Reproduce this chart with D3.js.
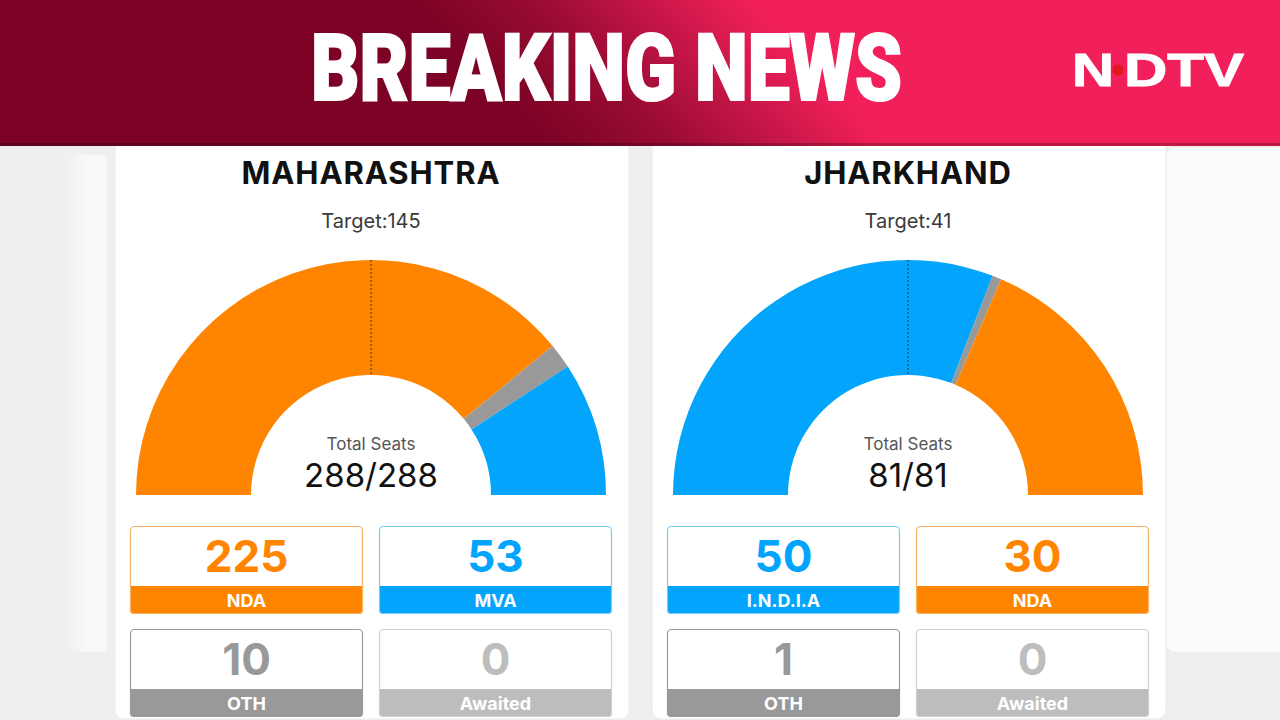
<!DOCTYPE html>
<html>
<head>
<meta charset="utf-8">
<script src="https://cdn.jsdelivr.net/npm/d3@7"></script>
<style>
  html, body { margin: 0; padding: 0; background: #efefef; overflow: hidden; }
  svg { display: block; }
</style>
</head>
<body>
<svg id="chart" width="1280" height="720"></svg>
<script>
// ---- Results data ----
const states = ["MAHARASHTRA", "JHARKHAND"];
const targets = [145, 41];
const totalSeats = [288, 81];
const countedSeats = [288, 81];

const mhAlliances = ["NDA", "OTH", "MVA"];
const mhSeats = [225, 10, 53];
const jhAlliances = ["I.N.D.I.A", "OTH", "NDA"];
const jhSeats = [50, 1, 30];
const awaitedSeats = [0, 0];

const mhBoxOrder = ["NDA", "MVA", "OTH", "Awaited"];
const jhBoxOrder = ["I.N.D.I.A", "NDA", "OTH", "Awaited"];

// ---- Styling ----
const allianceColor = {
  "NDA": "#ff8500",
  "MVA": "#03a5fc",
  "I.N.D.I.A": "#03a5fc",
  "OTH": "#999999",
  "Awaited": "#bdbdbd"
};
const boxBorder = {
  "NDA": "#f4b366",
  "MVA": "#7ccaf2",
  "I.N.D.I.A": "#7ccaf2",
  "OTH": "#9a9a9a",
  "Awaited": "#cfcfcf"
};

const svg = d3.select("#chart");
const defs = svg.append("defs");

// ---- Background panels ----
const edgeFade = defs.append("linearGradient").attr("id", "edgeFade")
  .attr("x1", 0).attr("x2", 1).attr("y1", 0).attr("y2", 0);
edgeFade.append("stop").attr("offset", 0).attr("stop-color", "#efefef");
edgeFade.append("stop").attr("offset", 0.45).attr("stop-color", "#f8f8f8");
edgeFade.append("stop").attr("offset", 1).attr("stop-color", "#f9f9f9");

svg.append("rect").attr("x", 0).attr("y", 0).attr("width", 1280).attr("height", 720).attr("fill", "#efefef");
svg.append("rect").attr("x", 66).attr("y", 155).attr("width", 41).attr("height", 497)
  .attr("rx", 6).attr("fill", "url(#edgeFade)");
svg.append("rect").attr("x", 1167).attr("y", 148).attr("width", 130).attr("height", 504)
  .attr("rx", 8).attr("fill", "#fcfcfc");

const cardX = [115, 652];
const cardW = 514;
const centers = [371, 908];

cardX.forEach(x => {
  svg.append("rect").attr("x", x).attr("y", 140).attr("width", cardW).attr("height", 579)
    .attr("rx", 9).attr("fill", "#ffffff").attr("stroke", "#ebebeb").attr("stroke-width", 1);
});

// ---- Header banner ----
const bannerGrad = defs.append("linearGradient").attr("id", "bannerGrad")
  .attr("gradientUnits", "userSpaceOnUse")
  .attr("x1", 555).attr("y1", 150).attr("x2", 730).attr("y2", -20);
bannerGrad.append("stop").attr("offset", 0).attr("stop-color", "#7c0325");
bannerGrad.append("stop").attr("offset", 0.35).attr("stop-color", "#980b33");
bannerGrad.append("stop").attr("offset", 1).attr("stop-color", "#f2205a");

svg.append("rect").attr("x", 0).attr("y", 0).attr("width", 1280).attr("height", 146).attr("fill", "url(#bannerGrad)");
svg.append("rect").attr("x", 0).attr("y", 143).attr("width", 1280).attr("height", 3).attr("fill", "#000").attr("opacity", 0.22);

svg.append("text")
  .attr("x", 311).attr("y", 100)
  .attr("textLength", 591).attr("lengthAdjust", "spacingAndGlyphs")
  .attr("font-family", "Roboto, 'Liberation Sans', sans-serif")
  .attr("font-weight", 900).attr("font-size", 92)
  .attr("fill", "#ffffff").attr("stroke", "#ffffff").attr("stroke-width", 2.2)
  .attr("stroke-linejoin", "miter")
  .text("BREAKING NEWS");

// NDTV wordmark
const logo = svg.append("g").attr("font-family", "'Liberation Sans', Arial, sans-serif")
  .attr("font-weight", 700).attr("font-size", 46).attr("fill", "#ffffff")
  .attr("stroke", "#ffffff").attr("stroke-width", 1);
logo.append("text").attr("x", 1072).attr("y", 86)
  .attr("textLength", 42).attr("lengthAdjust", "spacingAndGlyphs").text("N");
logo.append("text").attr("x", 1124).attr("y", 86)
  .attr("textLength", 120).attr("lengthAdjust", "spacingAndGlyphs").text("DTV");
svg.append("circle").attr("cx", 1118).attr("cy", 70).attr("r", 5.5).attr("fill", "#e3161f");

// ---- State panels ----
const gaugeY = 495;
const rOuter = 235;
const rInner = 120;

const pie = d3.pie().sort(null).value(d => d.seats)
  .startAngle(-Math.PI / 2).endAngle(Math.PI / 2);
const arc = d3.arc().innerRadius(rInner).outerRadius(rOuter);

const panels = [
  { name: states[0], target: targets[0], total: totalSeats[0], counted: countedSeats[0],
    slices: mhAlliances.map((a, i) => ({ alliance: a, seats: mhSeats[i] })),
    boxes: mhBoxOrder, awaited: awaitedSeats[0] },
  { name: states[1], target: targets[1], total: totalSeats[1], counted: countedSeats[1],
    slices: jhAlliances.map((a, i) => ({ alliance: a, seats: jhSeats[i] })),
    boxes: jhBoxOrder, awaited: awaitedSeats[1] }
];

const boxW = 233, boxH = 88, band = 28, boxGap = 16;
const rowY = [526, 629];

panels.forEach((p, pi) => {
  const cx = centers[pi];
  const g = svg.append("g");

  g.append("text").attr("x", cx).attr("y", 184).attr("text-anchor", "middle")
    .attr("font-family", "Inter, 'Open Sans', sans-serif").attr("font-weight", 700)
    .attr("font-size", 31).attr("letter-spacing", 0.9).attr("fill", "#111")
    .text(p.name);

  g.append("text").attr("x", cx).attr("y", 228).attr("text-anchor", "middle")
    .attr("font-family", "Inter, 'Open Sans', sans-serif").attr("font-weight", 400)
    .attr("font-size", 20).attr("fill", "#3a3a3a")
    .text("Target:" + p.target);

  // half-donut of seats
  const gauge = g.append("g").attr("transform", `translate(${cx},${gaugeY})`);
  gauge.selectAll("path").data(pie(p.slices)).join("path")
    .attr("d", arc).attr("fill", d => allianceColor[d.data.alliance]);

  // majority marker
  gauge.append("line").attr("x1", 0).attr("x2", 0).attr("y1", -rOuter).attr("y2", -rInner)
    .attr("stroke", "#333").attr("stroke-width", 1).attr("stroke-dasharray", "2,2");

  gauge.append("text").attr("x", 0).attr("y", -45).attr("text-anchor", "middle")
    .attr("font-family", "Inter, 'Open Sans', sans-serif").attr("font-size", 17)
    .attr("fill", "#555").text("Total Seats");
  gauge.append("text").attr("x", 0).attr("y", -8).attr("text-anchor", "middle")
    .attr("font-family", "Inter, 'Open Sans', sans-serif").attr("font-size", 33)
    .attr("fill", "#111").text(p.counted + "/" + p.total);

  // tally boxes
  const seatOf = a => a === "Awaited" ? p.awaited : p.slices.find(s => s.alliance === a).seats;
  p.boxes.forEach((a, bi) => {
    const col = bi % 2, row = Math.floor(bi / 2);
    const x = col === 0 ? cx - boxGap / 2 - boxW : cx + boxGap / 2;
    const y = rowY[row];
    const id = `clip-${pi}-${bi}`;
    defs.append("clipPath").attr("id", id).append("rect")
      .attr("x", x).attr("y", y).attr("width", boxW).attr("height", boxH).attr("rx", 4);
    const b = g.append("g");
    const inner = b.append("g").attr("clip-path", `url(#${id})`);
    inner.append("rect").attr("x", x).attr("y", y).attr("width", boxW).attr("height", boxH).attr("fill", "#fff");
    inner.append("rect").attr("x", x).attr("y", y + boxH - band).attr("width", boxW).attr("height", band)
      .attr("fill", allianceColor[a]);
    b.append("rect").attr("x", x + 0.5).attr("y", y + 0.5).attr("width", boxW - 1).attr("height", boxH - 1)
      .attr("rx", 4).attr("fill", "none").attr("stroke", boxBorder[a]).attr("stroke-width", 1.2);
    b.append("text").attr("x", x + boxW / 2).attr("y", y + 46).attr("text-anchor", "middle")
      .attr("font-family", "Inter, 'Open Sans', sans-serif").attr("font-weight", 700)
      .attr("font-size", 44).attr("fill", allianceColor[a]).text(seatOf(a));
    b.append("text").attr("x", x + boxW / 2).attr("y", y + boxH - 7).attr("text-anchor", "middle")
      .attr("font-family", "Inter, 'Open Sans', sans-serif").attr("font-weight", 700)
      .attr("font-size", 18).attr("fill", "#fff").text(a);
  });
});
</script>
</body>
</html>
